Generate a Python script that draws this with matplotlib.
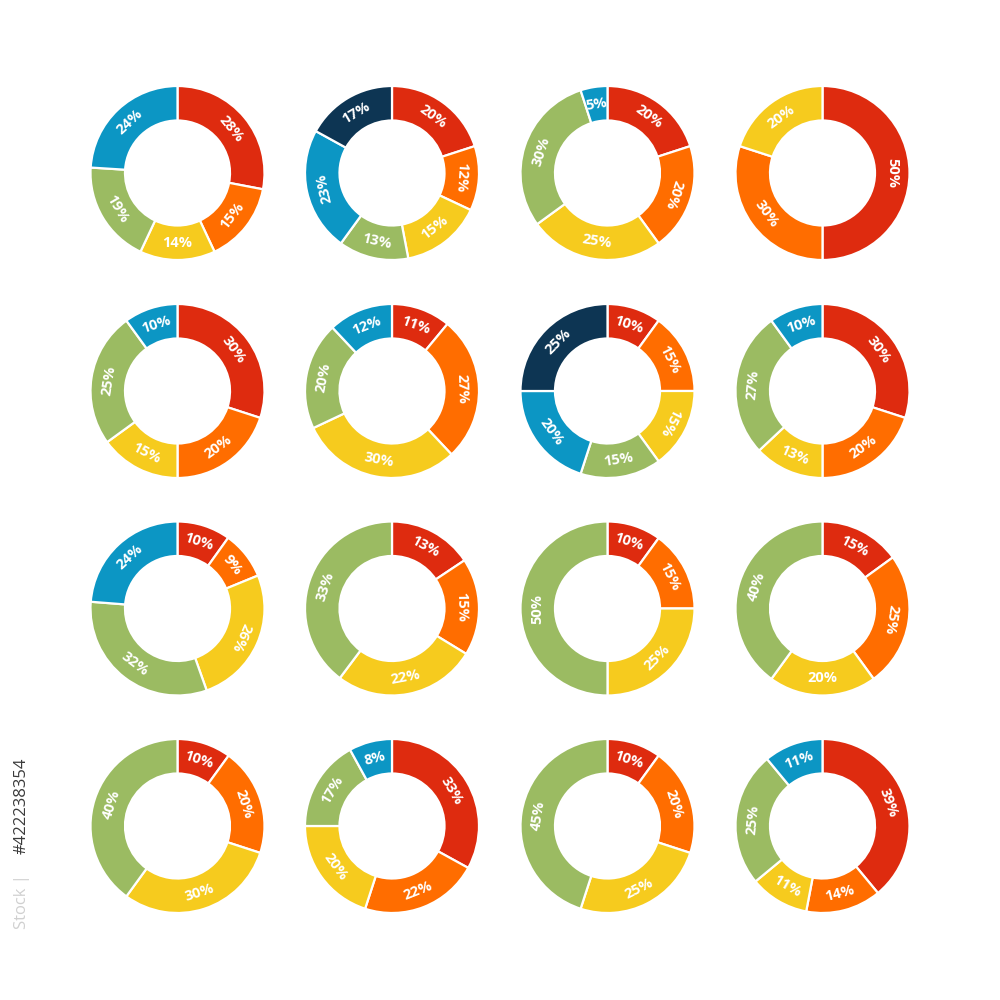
import matplotlib
matplotlib.use("Agg")
import matplotlib.pyplot as plt
import numpy as np

RED = "#DE2B0F"
ORANGE = "#FF6D00"
YELLOW = "#F6CB1E"
GREEN = "#9BBB62"
BLUE = "#0C96C4"
NAVY = "#0D3553"

# each donut: percent values, clockwise from 12 o'clock
donut_values = [
    [28, 15, 14, 19, 24],
    [20, 12, 15, 13, 23, 17],
    [20, 20, 25, 30, 5],
    [50, 30, 20],
    [30, 20, 15, 25, 10],
    [11, 27, 30, 20, 12],
    [10, 15, 15, 15, 20, 25],
    [30, 20, 13, 27, 10],
    [10, 9, 26, 32, 24],
    [13, 15, 22, 33],
    [10, 15, 25, 50],
    [15, 25, 20, 40],
    [10, 20, 30, 40],
    [33, 22, 20, 17, 8],
    [10, 20, 25, 45],
    [39, 14, 11, 25, 11],
]
palette = [RED, ORANGE, YELLOW, GREEN, BLUE, NAVY]

col_x = [177.5, 392, 607.5, 822.5]
row_y = [173, 391, 608.5, 826]
R_OUT = 87
R_IN = 52.5

fig = plt.figure(figsize=(10, 10), dpi=100)
fig.patch.set_facecolor("white")
ax = fig.add_axes([0, 0, 1, 1])

for i, vals in enumerate(donut_values):
    cx = col_x[i % 4]
    cy = 1000 - row_y[i // 4]
    wedges, _ = ax.pie(vals, colors=palette[:len(vals)], startangle=90,
                       counterclock=False, center=(cx, cy), radius=R_OUT,
                       wedgeprops=dict(width=R_OUT - R_IN, edgecolor="white",
                                       linewidth=1.6),
                       normalize=True, frame=True)
    r_mid = (R_OUT + R_IN) / 2
    for w, v in zip(wedges, vals):
        mid = (w.theta1 + w.theta2) / 2.0
        t = mid % 360
        if t > 330:
            t -= 360
        rot = t - 90 if -30 <= t <= 195 else t + 90
        x = cx + r_mid * np.cos(np.radians(t))
        y = cy + r_mid * np.sin(np.radians(t))
        ax.text(x, y, f"{v}%", color="white", fontsize=10.5, fontweight="bold",
                family=["Open Sans", "DejaVu Sans"], rotation=rot,
                rotation_mode="anchor", ha="center", va="center")

ax.set_xlim(0, 1000)
ax.set_ylim(0, 1000)
ax.set_aspect("equal")
ax.axis("off")

ax.text(22, 1000 - 806, "#422238354", rotation=90, ha="center", va="center",
        fontsize=12, color="#3a3a3a", family=["Open Sans", "DejaVu Sans"])
ax.text(22, 1000 - 902, "Stock |", rotation=90, ha="center", va="center",
        fontsize=12, color="#d0d0d0", family=["Open Sans", "DejaVu Sans"])

fig.savefig("out.png", dpi=100, facecolor="white")
